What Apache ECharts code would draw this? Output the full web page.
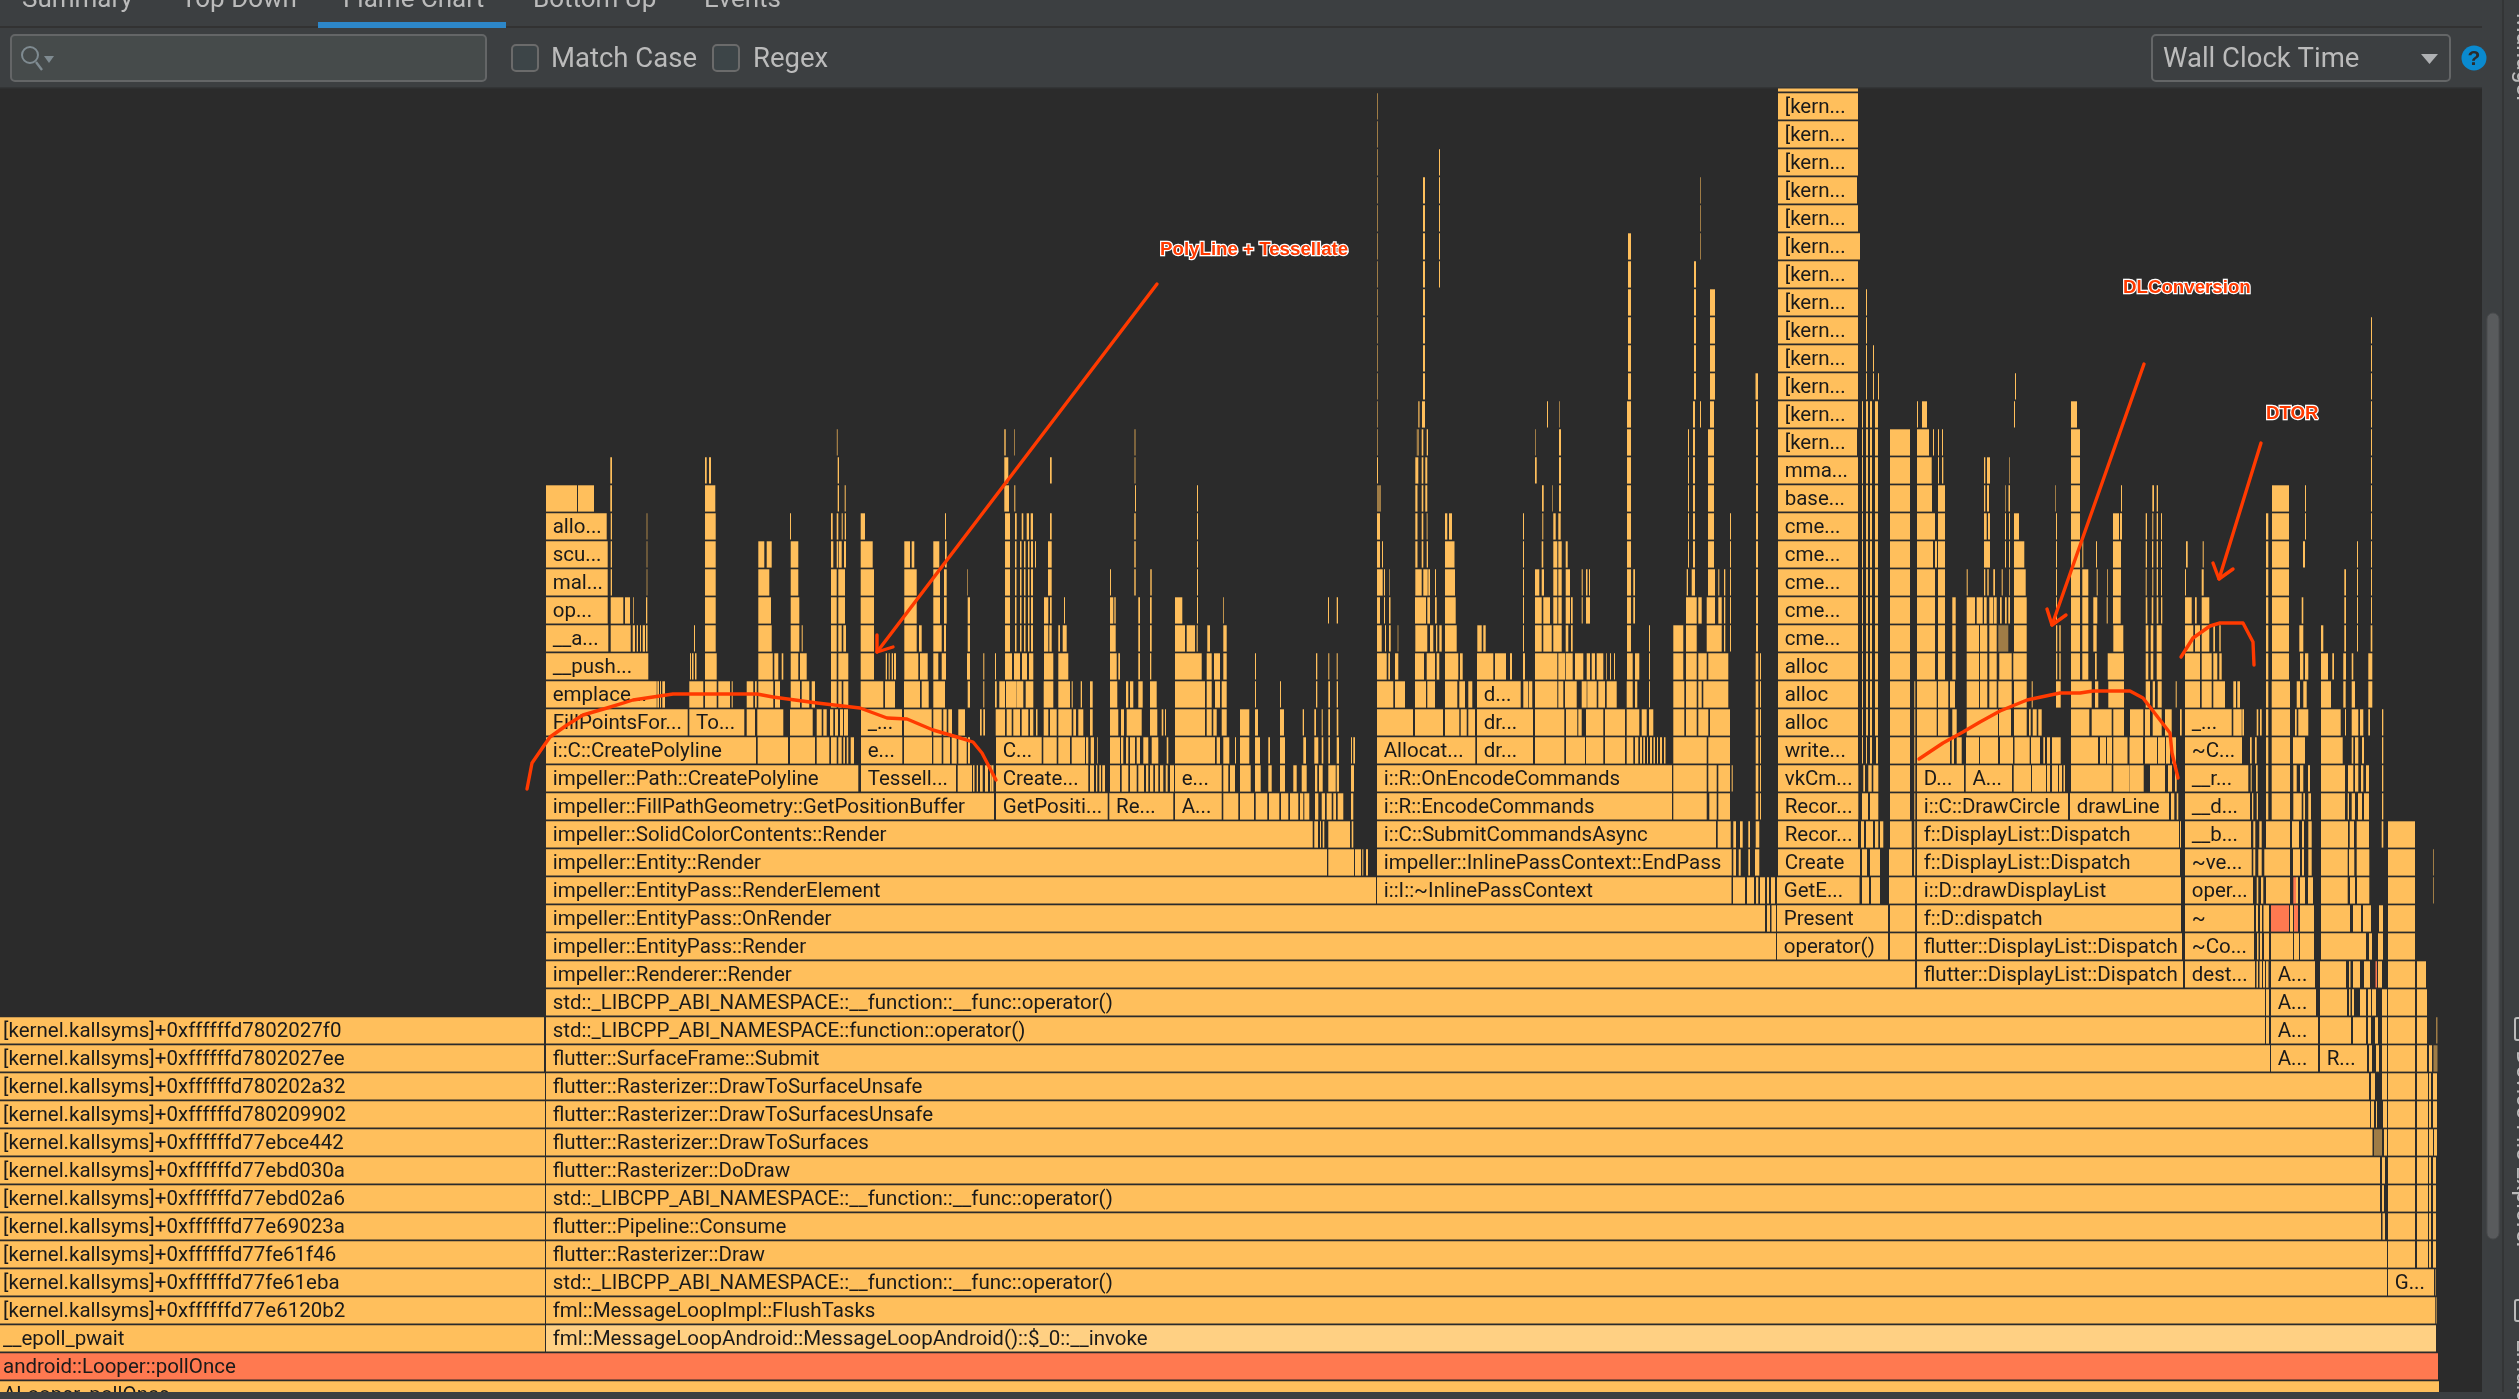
<![CDATA[<!DOCTYPE html>
<html><head><meta charset="utf-8">
<script src="https://cdn.jsdelivr.net/npm/echarts@6/dist/echarts.min.js"></script>
<style>html,body{margin:0;padding:0;background:#2b2b2b;overflow:hidden}#c{width:2519px;height:1399px}</style>
</head><body><div id="c"></div>
<script>
// Frames per stack level: [start, end, label, kind]  kind: r=hot, l=light, f=faint
const K='[kern...';
const FN='std::_LIBCPP_ABI_NAMESPACE::__function::__func::operator()';
const cl=[[1862,1863],[1866,1868],[1870,1872],[1875,1878]];
const thin1015=[[1015,1016.5],[1020,1021.5],[1024,1025.5],[1028,1029.5],[1031,1033]];
const tail=[[2388,2415],[2417,2428],[2429,2431],[2433,2436]];
const L0=[[0,2439,'ALooper_pollOnce']];
const L1=[[0,2438,'android::Looper::pollOnce','r']];
const L2=[[0,545,'__epoll_pwait'],[546,2436,'fml::MessageLoopAndroid::MessageLoopAndroid()::$_0::__invoke','l']];
const L3=[[0,545,'[kernel.kallsyms]+0xffffffd77e6120b2'],[546,2435,'fml::MessageLoopImpl::FlushTasks'],[2435.5,2437,'','f']];
const L4=[[0,545,'[kernel.kallsyms]+0xffffffd77fe61eba'],[546,2387,FN],[2388,2434,'G...'],[2435,2436,'','f']];
const L5=[[0,545,'[kernel.kallsyms]+0xffffffd77fe61f46'],[546,2387,'flutter::Rasterizer::Draw'],...tail];
const L6=[[0,545,'[kernel.kallsyms]+0xffffffd77e69023a'],[546,2381,'flutter::Pipeline::Consume'],[2382.5,2385],...tail];
const L7=[[0,545,'[kernel.kallsyms]+0xffffffd77ebd02a6'],[546,2380,FN],[2382,2384],...tail];
const L8=[[0,545,'[kernel.kallsyms]+0xffffffd77ebd030a'],[546,2380,'flutter::Rasterizer::DoDraw'],[2382,2385],...tail];
const L9=[[0,545,'[kernel.kallsyms]+0xffffffd77ebce442'],[546,2372.5,'flutter::Rasterizer::DrawToSurfaces'],[2374,2382,'','f'],[2384,2387],[2388,2415],[2417,2428],[2429,2433],[2434,2437]];
const L10=[[0,545,'[kernel.kallsyms]+0xffffffd780209902'],[546,2370,'flutter::Rasterizer::DrawToSurfacesUnsafe'],[2371,2374],[2376,2377],[2383,2387],[2388,2415],[2417,2428],[2429,2431],[2433,2437]];
const L11=[[0,545,'[kernel.kallsyms]+0xffffffd780202a32'],[546,2369,'flutter::Rasterizer::DrawToSurfaceUnsafe'],[2371,2375],[2382,2387],[2388,2415],[2417,2428],[2429,2431],[2433,2437]];
const L12=[[0,544,'[kernel.kallsyms]+0xffffffd7802027ee'],[546,2270,'flutter::SurfaceFrame::Submit'],[2271,2318,'A...'],[2320,2367,'R...'],[2369,2372],[2376,2379],[2382,2387],[2388,2415],[2417,2427],[2429,2432],[2433.5,2437.5,'','f']];
const L13=[[0,544,'[kernel.kallsyms]+0xffffffd7802027f0'],[546,2265,'std::_LIBCPP_ABI_NAMESPACE::function::operator()'],[2266,2269],[2271,2318,'A...'],[2320,2351],[2353,2366],[2368,2371],[2375,2378],[2382,2387],[2388,2415],[2417,2427],[2436,2437.5,'','f']];
const L14=[[546,2265,FN],[2266,2269],[2271,2316,'A...'],[2320,2347],[2349,2350.5],[2352,2354],[2360,2366],[2368,2371],[2372,2376],[2382,2387],[2388,2415],[2417,2427]];
const L15=[[546,1915,'impeller::Renderer::Render'],[1917,2183,'flutter::DisplayList::Dispatch'],[2185,2255,'dest...'],[2256.5,2258],[2259.5,2262],[2263,2265],[2266,2268.5],[2271,2315,'A...'],[2320,2346],[2349,2350.5],[2353,2360],[2364,2370],[2375.5,2377,'','r'],[2378,2382],[2388,2415],[2417,2426]];
const L16=[[546,1776,'impeller::EntityPass::Render'],[1777,1888,'operator()'],[1890,1915],[1917,2182,'flutter::DisplayList::Dispatch'],[2185,2254,'~Co...'],[2257,2258.5],[2260,2262],[2264,2269],[2271,2293],[2294,2299],[2300,2314],[2321,2366],[2369,2372],[2378,2383],[2388,2415]];
const L17=[[546,1765,'impeller::EntityPass::OnRender'],[1767,1770],[1771.5,1776],[1777,1888,'Present'],[1890,1915],[1917,2181,'f::D::dispatch'],[2185,2254,'~'],[2256,2258],[2260,2262],[2263.5,2269],[2271,2289,'','r'],[2290,2293],[2294,2298,'','r'],[2300,2314],[2321,2350],[2353,2361],[2363,2371],[2379,2383],[2388,2415]];
const L18=[[546,1376,'impeller::EntityPass::RenderElement'],[1377,1731.5,'i::I::~InlinePassContext'],[1733,1745],[1747,1754],[1756,1758.3],[1760,1765],[1767,1769],[1771,1775],[1777,1859.5,'GetE...'],[1862,1869],[1871,1880],[1889,1915],[1917,2181,'i::D::drawDisplayList'],[2185,2253,'oper...'],[2256.7,2258.3],[2261,2263.3],[2266,2290],[2293.3,2296,'','r'],[2296,2298],[2300,2305],[2308,2313],[2321,2347.7],[2350,2355],[2357,2369.3],[2388,2415],[2433,2434,'','f']];
const L19=[[546,1327,'impeller::Entity::Render'],[1328.3,1354],[1355,1361],[1362.3,1363.3],[1366,1368],[1377,1731.7,'impeller::InlinePassContext::EndPass'],[1733.3,1736],[1738.7,1740.7],[1748.3,1750],[1755,1759.3],[1778,1860,'Create'],[1862,1867],[1870,1880],[1889,1912],[1914,1915.3],[1917,2180,'f::DisplayList::Dispatch'],[2185,2251.7,'~ve...'],[2253.3,2255.3],[2258.3,2261.7],[2264.3,2290],[2293,2300],[2302,2304],[2308.3,2311.7],[2321,2347.7],[2349,2354.3],[2356.7,2369.3],[2388,2415],[2433,2434,'','f']];
const L20=[[546,1312.7,'impeller::SolidColorContents::Render'],[1314.3,1318],[1320,1321],[1322.7,1324.3],[1328.3,1350],[1351.7,1353.3],[1377,1716,'i::C::SubmitCommandsAsync'],[1717.7,1730.7],[1733.3,1736],[1740,1742.7],[1748.3,1750],[1755.7,1759.3],[1778,1858,'Recor...'],[1861,1864],[1866,1873],[1875,1878.3],[1880,1883.3],[1890,1911.7],[1914.3,1915.3],[1917,2179,'f::DisplayList::Dispatch'],[2180,2181],[2185,2251,'__b...'],[2253.3,2255.3],[2259.3,2261.7],[2266,2290],[2292,2299],[2302,2304],[2308.3,2311.7],[2321,2348],[2349.7,2354],[2356.7,2369],[2381.7,2383.3],[2388,2415]];
const L21=[[546,994,'impeller::FillPathGeometry::GetPositionBuffer'],[996,1107.7,'GetPositi...'],[1109.3,1173.3,'Re...'],[1175,1221.7,'A...'],[1223.3,1238.3],[1240,1254],[1255.7,1267.3],[1269,1279.3],[1281,1288.3],[1290,1298.3],[1300,1303.3],[1304.3,1309.3],[1315,1318.3],[1321.7,1325],[1326.7,1331.7],[1333.3,1336],[1337.7,1343.3],[1351,1353.3],[1377,1672,'i::R::EncodeCommands'],[1673.3,1706.7],[1709.3,1716.7],[1718.3,1730],[1755.7,1758.3],[1760,1761],[1778,1858.3,'Recor...'],[1862,1868],[1870,1878.3],[1890,1910],[1914.3,1915.3],[1917,2068,'i::C::DrawCircle'],[2070,2169,'drawLine'],[2171,2174.3],[2176.7,2178.3],[2185,2250,'__d...'],[2252,2253.3],[2256.7,2258],[2266,2268.3],[2271.7,2290],[2293.3,2301.7],[2303.3,2305],[2308.3,2311],[2321,2345],[2347.7,2349],[2351.7,2355],[2358,2362],[2364,2369],[2382,2383.3]];
const L22=[[546,858.3,'impeller::Path::CreatePolyline'],[861,956,'Tessell...'],[957.7,972],[973,974.5],[976.7,978],[980,982.7],[985,988],[990,991.7],[992,993.5],[996,1088.3,'Create...'],[1090,1094],[1096,1097.3],[1099.3,1101],[1102.3,1105],[1110,1120],[1121.7,1128.3],[1130,1136.7],[1138.3,1144],[1146,1148.3],[1150,1153.3],[1155,1158.3],[1160,1163.3],[1165.7,1167.7],[1170,1174],[1175,1221.7,'e...'],[1223.3,1228.3],[1230,1235],[1240,1250.7],[1255,1260.7],[1268.3,1271.7],[1280,1285],[1293.3,1296.7],[1301.7,1306.7],[1315,1317.3],[1319,1322.7],[1328.3,1335.7],[1336.7,1339],[1351,1354],[1377,1672,'i::R::OnEncodeCommands'],[1673.3,1706.7],[1708.3,1716.7],[1718.3,1730],[1731.7,1732.7],[1755.7,1758.3],[1760,1761],[1778,1858.3,'vkCm...'],[1863.3,1865],[1868.3,1871.7],[1873.3,1878.3],[1890,1910],[1914.3,1915.3],[1917,1964,'D...'],[1965.7,2012,'A...'],[2013.7,2031],[2032,2046],[2047,2050],[2052,2058],[2059,2062],[2063.5,2065],[2071,2111.7],[2113.3,2129.7],[2130,2143.7],[2150,2165],[2168,2172],[2175,2176.7],[2185,2248.3,'__r...'],[2250.7,2251.7],[2256,2257.7],[2266,2268.3],[2271.7,2290],[2293.3,2296.7],[2300,2303.3],[2308,2310],[2321,2345],[2348,2353.3],[2355,2358.3],[2361,2363.3],[2366,2369],[2382,2383.3]];
const L23=[[546,756,'i::C::CreatePolyline'],[757.7,788],[790,815],[816.7,829.3],[831,836.7],[838.3,841.7],[843.3,845],[846.7,848.3],[850.7,854],[861,902.3,'e...'],[904,932],[933.3,941.7],[943.3,950],[951.7,956.7],[958.3,966.7],[968,970],[996,1041.7,'C...'],[1043.3,1056.7],[1058.3,1070],[1071.7,1085],[1086,1088.3],[1090.7,1094],[1097.3,1098],[1110,1120],[1121,1123.3],[1126,1128.3],[1130,1135],[1136.7,1140],[1143.3,1148.3],[1151.7,1158.3],[1166.7,1168.3],[1175,1215],[1216.7,1220],[1223.3,1229.3],[1235,1236],[1240,1249.3],[1255,1260],[1268.3,1270],[1280,1285],[1303.3,1306],[1314.3,1318.3],[1321.7,1323.3],[1328.3,1330],[1336.7,1339],[1351,1352],[1353.3,1355],[1377,1475.3,'Allocat...'],[1477,1533,'dr...'],[1535,1564.3],[1566,1585],[1586,1603.3],[1605,1625],[1626.7,1633.3],[1635,1638.3],[1640,1642],[1643.3,1645],[1647,1648],[1650,1652],[1653.5,1655],[1657,1658],[1660,1662],[1664,1665.5],[1673.3,1706.7],[1708.3,1730],[1755.7,1758.3],[1760,1761],[1778,1858,'write...'],[1862,1863],[1866,1867],[1870,1872],[1876,1878],[1890,1910],[1914.3,1915.3],[1917,1950],[1951.7,1954],[1956.7,1961.7],[1966,1979],[1980,1998],[2000,2013],[2014.5,2029.7],[2031,2040],[2043.3,2045],[2047,2050],[2052,2060.7],[2071,2098],[2100,2106],[2107,2112],[2113.3,2127.5],[2129.5,2143],[2145,2157],[2158,2165],[2166,2170],[2172,2176],[2185,2242,'~C...'],[2250,2251.7],[2255,2256.7],[2266,2268.3],[2271.7,2290],[2293,2305],[2321,2342.7],[2351.7,2353.3],[2355,2358.3],[2362,2364],[2382,2383.3]];
const L24=[[546,687.7,'FillPointsFor...'],[689.3,744.3,'To...'],[746.7,755],[757.3,783.3],[790,812.7],[816.7,821.7],[823.3,826.7],[830,833.3],[835,838],[840,843],[844,848],[861,902,'_...'],[904,931.7],[933.3,941.7],[943.3,946.7],[948.3,952],[958.3,965],[980,981.7],[983.3,985],[995.7,1005],[1006.7,1011.7],[1013.3,1020],[1021.7,1028.3],[1030,1033.3],[1036,1037.5],[1043.7,1048.3],[1050,1056.7],[1058.3,1071.7],[1073.3,1076],[1078.3,1083.3],[1090,1092.7],[1110,1118.3],[1121,1124],[1126.7,1141.7],[1150,1157.3],[1161.7,1163.3],[1165,1166],[1175,1205],[1206.7,1211.7],[1213.3,1216.7],[1221.7,1226.7],[1240,1249.3],[1255,1258],[1280,1284],[1302.7,1304],[1314.3,1316],[1321.7,1322.7],[1328.3,1330],[1336.7,1338.3],[1377,1413],[1415,1443],[1445,1459.3],[1460.7,1466.7],[1468.3,1475],[1477,1533,'dr...'],[1535,1564.3],[1566,1577.3],[1578.3,1581.7],[1586,1603.3],[1605,1625],[1626.7,1639.3],[1641.7,1646.7],[1649,1653.3],[1673.3,1684.3],[1686,1696.7],[1698.3,1708.3],[1710,1730],[1755.7,1758.3],[1760,1761],[1778,1858,'alloc'],...cl,[1890,1910],[1914.3,1915.3],[1917,1936.7],[1938,1948.3],[1952.3,1956.7],[1966.7,1998],[1999,2011],[2014,2026.7],[2029,2030.7],[2032.7,2036.7],[2038.3,2041.7],[2071,2089.3],[2091.7,2111.7],[2113.3,2124],[2130,2143.3],[2145,2150],[2152.7,2161.7],[2165,2171.7],[2180,2181.7],[2185,2231.7,'_...'],[2233.3,2241.7],[2242.3,2244],[2256.7,2258.3],[2260,2261.7],[2266,2268.3],[2271.7,2290],[2295,2296.7],[2298.3,2308.3],[2321,2340.7],[2345,2346],[2351.7,2358.3],[2360,2363.3],[2368.3,2370],[2382,2383.3]];
const L25=[[546,656.7,'emplace...'],[657.3,659],[660,661],[662.3,665],[689.3,703.3],[705,716.7],[718.3,730],[731.7,732.7],[746.7,753.3],[755,756.7],[758.3,773.3],[775,780],[790.7,800],[801.7,809.3],[811.7,815],[831,836.7],[838.3,841.7],[843.3,848.3],[860.7,883.3],[885,895],[904,920],[921.7,928.7],[933.3,945],[967.7,970],[983.3,984.3],[995,996.7],[999.3,1005],[1006,1016.7],[1017,1023.3],[1025.7,1033.3],[1043.7,1053.3],[1058.3,1070],[1071.7,1072.7],[1080.7,1082],[1090,1092.7],[1110,1117.3],[1126,1128.3],[1130,1133.3],[1138.3,1142.7],[1150,1156.7],[1175,1205],[1206.7,1211.7],[1215,1220],[1221.7,1226.7],[1255,1256],[1280,1281],[1316,1317.3],[1328.3,1330],[1336.7,1338],[1377,1393.3],[1395,1405],[1415,1426],[1427.3,1435],[1445,1457.3],[1459.3,1465],[1468.3,1472.3],[1477,1520.7,'d...'],[1523.3,1528.3],[1529,1532.3],[1535,1557.3],[1558.3,1563.3],[1565,1576.7],[1581.7,1586.7],[1587.3,1596.7],[1598.3,1605],[1606.7,1616.7],[1626.7,1632.7],[1635,1637.3],[1649,1650],[1673.3,1684.3],[1686,1696.7],[1698.3,1701.7],[1703.3,1728.3],[1755.7,1758.3],[1760,1761],[1778,1858,'alloc'],...cl,[1890,1910],[1914.3,1915.3],[1917,1936.7],[1938,1948.3],[1950,1955],[1966.7,1979],[1980,1987.3],[1989.3,1996.7],[1998.3,2011.7],[2014,2026.7],[2031.7,2032.7],[2056,2060.7],[2071,2091.7],[2095,2098.3],[2108.3,2124],[2145.7,2150],[2152.7,2155],[2157.7,2161.7],[2175.7,2176.7],[2185,2200],[2201.7,2211.7],[2213.3,2225],[2233.3,2236],[2237.3,2240],[2266,2268.3],[2271.7,2290],[2296.7,2300],[2303.3,2306.7],[2321,2331],[2343.3,2345.7],[2351.7,2355],[2368.3,2372.3]];
const L26=[[546,648.3,'__push...'],[690,691],[692,693.5],[695,696.5],[705,716.7],[758.3,772.7],[774.3,778.3],[781.7,783.3],[790.7,798.3],[800,806.7],[831,836.7],[838.3,848.3],[860.7,874],[885.7,887],[888.7,889.7],[891.7,893],[894,896],[904.3,918.3],[920,927.7],[933.3,938.3],[941.7,946],[967,970],[983.3,984.3],[995,996],[1005,1012],[1014,1020],[1022,1027],[1029,1033.3],[1044,1053.3],[1058.3,1068.3],[1110,1116.7],[1118.3,1120],[1138.3,1140],[1150,1151.3],[1175,1201.7],[1206.7,1211.7],[1214,1220],[1223.3,1226.7],[1255,1256],[1316,1317.3],[1328.3,1329.3],[1336.7,1337.7],[1377,1386.7],[1388.3,1390],[1395,1398.3],[1415,1424],[1426.7,1435],[1436.7,1439.3],[1445,1458.3],[1460,1462.7],[1477,1493.3],[1495,1506],[1510,1512],[1523,1525],[1535,1557.3],[1558.3,1565],[1565.7,1572.7],[1575,1583.3],[1586.7,1590],[1591.7,1595],[1596.7,1603.3],[1606,1606.7],[1610,1611],[1614,1615],[1627,1632.7],[1635,1639.3],[1649,1650],[1673.3,1683.3],[1686,1696.7],[1698.3,1706.7],[1708.3,1728.3],[1755.7,1758.3],[1760,1761],[1778,1858,'alloc'],...cl,[1890,1910],[1917,1935],[1938,1945],[1952.3,1955.7],[1966.7,1979],[1980,1987.3],[1989.3,1996.7],[1999.3,2011.7],[2013.3,2026.7],[2056,2057.3],[2059.3,2060.7],[2071,2080],[2082.3,2088.3],[2095,2096.7],[2107.7,2124],[2145.7,2148.3],[2150.7,2153.3],[2156.7,2161.7],[2185,2200],[2201.7,2211.7],[2213.3,2217.3],[2219.3,2221.7],[2266,2268.3],[2272,2289],[2300,2303.3],[2305,2308.3],[2321,2328],[2332.3,2334],[2343.3,2346],[2351.7,2353.3],[2368.3,2372.3]];
const L27=[[546,608.3,'__a...'],[610.7,630.7],[632.7,635],[636.7,638],[640,641],[642.7,645],[646,647.5],[694,695],[705,715.7],[758.3,771.7],[790.7,799.3],[801.7,802.7],[831,836.7],[838.3,841.7],[843.3,846],[860.7,874],[904.3,916.7],[919,921.7],[933.3,941.7],[944,946],[967.7,970],[1005,1010],...thin1015,[1044,1048.3],[1049.3,1051.7],[1058.3,1060],[1062.7,1066.7],[1110,1115.7],[1138.3,1140],[1150,1151.7],[1175,1185],[1186.7,1195],[1196.7,1197.7],[1207.3,1210],[1223.3,1226.7],[1377,1381.7],[1385,1386],[1389,1390.7],[1397.7,1398.3],[1415.3,1427.3],[1430,1433.3],[1436,1437.3],[1439.3,1441.7],[1445,1456.7],[1477.3,1481.7],[1483.3,1485.7],[1523,1524],[1535,1541.7],[1543.3,1551.7],[1553.3,1561.7],[1565.7,1568.3],[1571,1572.7],[1627,1631],[1649,1650],[1673.3,1683.3],[1686,1696.7],[1706.7,1721.7],[1724,1725.3],[1730,1731],[1756,1758],[1778,1858,'cme...'],...cl,[1890,1910],[1917,1935],[1938,1945],[1952.3,1955.7],[1966.7,1979],[1980,1987.3],[1989.3,1996.7],[1998.3,2008.3,'','f'],[2014,2026.7],[2056,2057.3],[2059.3,2060.7],[2071,2080],[2082.3,2088.3],[2093.3,2096.7],[2113.3,2123.3],[2145.7,2148.3],[2150.7,2153.3],[2156.7,2161.7],[2185,2193.3],[2195,2200],[2201.7,2209.3],[2213.3,2215],[2219.3,2220.7],[2266,2268.3],[2272,2289],[2299.3,2303.3],[2321,2323.3],[2344.3,2346],[2357,2358],[2370.7,2372.3]];
const L28=[[546,607.7,'op...'],[610.7,623.3],[625,630],[633.3,634],[646,647.3],[705,715.7],[758.3,771],[790.7,799.3],[831,836.7],[838.3,845],[860.7,874],[904.3,916.7],[933.3,940],[944,946.7],[967.7,970],[1005,1010],...thin1015,[1044,1048.3],[1050,1051.7],[1064,1065],[1110,1113.3],[1114.3,1115.7],[1138.3,1140],[1150,1151.7],[1175,1182.3],[1197,1198],[1223.3,1224],[1328,1329],[1336.7,1338],[1377,1380],[1384,1385],[1389,1390.5],[1415,1426],[1427.3,1430],[1435,1436.7],[1445,1455.7],[1523,1524],[1535,1541.7],[1543.3,1550],[1553.3,1557.3],[1558.3,1561.7],[1565.7,1570],[1571,1572.7],[1581.7,1582.7],[1586,1590],[1627,1631],[1633.3,1635],[1686,1696.7],[1698.3,1701.7],[1706.7,1715],[1718.3,1721.7],[1724,1725.3],[1730,1731],[1756,1758],[1778,1858,'cme...'],...cl,[1890,1910],[1917,1935],[1938,1945],[1952.3,1955.7],[1966.7,1975],[1976.7,1982.7],[1984,1986.7],[1989.3,1993.3],[1994,1996.7],[2000,2001.7],[2005,2006.7],[2008.3,2010],[2014,2026.7],[2056,2057],[2071,2080],[2082.3,2088.3],[2093.3,2097.3],[2106.7,2107.7],[2113,2120.7],[2145.7,2147.3],[2151.7,2153.3],[2156.7,2158.3],[2161,2162.3],[2185,2191.7],[2195,2196.7],[2201.7,2209.3],[2266,2268.3],[2272,2289],[2301.7,2303.3],[2344.3,2346],[2357,2358],[2371,2372]];
const L29=[[546,607.7,'mal...'],[610.7,612],[646.7,647.3],[705,715.7],[758.3,769.3],[790.7,798.3],[831,836.7],[838.3,845],[860.7,874],[904.3,916.7],[933.3,940],[944,946.7],[967,968,'','f'],[1005,1010],...thin1015,[1048,1051.7],[1110,1111],[1134.3,1135.7],[1150.3,1151.7],[1197,1198],[1377,1382.7],[1384,1385],[1389,1390,'','f'],[1415.3,1421.7],[1423.3,1427.7],[1428.3,1430],[1435,1436],[1445,1455],[1523,1524],[1535,1539.3],[1541.7,1544],[1553.3,1557.3],[1558.3,1561.7],[1565.7,1570],[1581.7,1582.7],[1586,1587.5],[1589,1590],[1627,1631],[1633.3,1635],[1686.7,1688],[1691.7,1695],[1708,1715],[1718.3,1719.3],[1724,1725.3],[1730,1731],[1756,1758],[1778,1858,'cme...'],...cl,[1890,1910],[1917,1935],[1938,1945],[1966.7,1967.7],[1984,1985.3],[1987.3,1988.7],[1993.3,1995],[2001.7,2002.7],[2009.3,2010],[2014,2025.7],[2056,2057],[2071,2080],[2082.3,2088.3],[2096.7,2097.7],[2107.3,2108],[2113,2121],[2145.7,2146.7],[2152.3,2153.3],[2156.7,2158],[2161,2162],[2185,2186],[2201.7,2203.7],[2266,2268.3],[2272,2289],[2344.3,2346],[2357,2358],[2371,2372]];
const L30=[[546,607.7,'scu...'],[610.7,612],[646.7,647.3],[705,715.7],[758.3,764.3],[766.7,771.7],[790.7,798.3],[831,833.3],[836.7,838.3],[839,841.7],[844,846],[860.7,872.7],[904.3,910],[911.7,914.3],[933.3,939.3],[945,946.7],[1005,1010],...thin1015,[1035,1036],[1048,1051.7],[1134.3,1135.7],[1197,1198],[1377,1380],[1382,1383],[1415.3,1417.5],[1421.7,1423.3],[1426.7,1428],[1445,1454.5],[1523,1524],[1541.7,1543.3],[1553.3,1557.3],[1558.3,1561.7],[1565.7,1567.7],[1627,1631],[1688,1689],[1693,1695],[1708,1714],[1730,1731],[1756,1758],[1778,1858,'cme...'],...cl,[1890,1910],[1917,1933],[1935,1937],[1938,1945],[1984,1990],[2005,2006],[2009,2010],[2014,2024.3],[2056,2057],[2071,2080],[2082.3,2083.3],[2096,2097],[2113,2121],[2145.7,2147],[2152,2153.3],[2156.7,2158],[2161,2162],[2186,2187.7],[2202.7,2203.7],[2266,2268.3],[2272,2289],[2303,2305],[2357,2358],[2371,2372]];
const L31=[[546,606.7,'allo...'],[610.7,612],[646.7,647.3],[705,715.7],[790,791],[831,832.7],[836.7,838.3],[841.7,842.7],[844.7,846],[860.7,865],[945,946],[1005,1010],[1015,1016.7],[1021.7,1023.3],[1026.7,1029],[1030.7,1033],[1050,1051.7],[1134.3,1135.7],[1197,1198],[1377,1380],[1415.3,1417.5],[1421.7,1423.3],[1426.7,1427.5],[1445,1447.3],[1449,1452],[1523,1524],[1542.3,1543.3],[1553.3,1555.7],[1558.3,1560.7],[1627,1631],[1688,1689],[1693,1695],[1708,1714],[1730,1731],[1756,1758],[1778,1858,'cme...'],...cl,[1890,1910],[1917,1935],[1938,1945],[1984,1986.7],[1988,1990],[2005,2006],[2009,2010],[2014,2019],[2056,2057],[2071,2080],[2113,2119],[2120,2122],[2145.7,2147],[2152.3,2153.3],[2156.7,2158],[2161,2162],[2266,2268.3],[2272,2289],[2305,2306],[2371,2372]];
const L32=[[546,577],[578,594],[610.3,612],[705,715.3],[837.7,839],[844.7,845.7],[1004.3,1009],[1014.3,1015.3],[1135,1136],[1197,1198],[1377,1381,'','f'],[1415.3,1417.5],[1421.7,1423.3],[1425.3,1427.3],[1542,1543.7],[1552,1553,'','f'],[1559,1561],[1627,1631],[1688,1689],[1693,1695],[1708,1714],[1756,1758],[1778,1858,'base...'],...cl,[1890,1910],[1917,1932],[1938,1945],[1984,1985.3],[1987,1989],[2005,2006,'','f'],[2008.5,2010],[2055,2056,'','f'],[2071,2080],[2121,2122],[2152.3,2154],[2156.7,2158],[2272,2289],[2305,2306],[2371,2372]];
const L33=[[610.3,612],[705,706.7],[709,711],[837.7,839],[1004.3,1008.3],[1050,1051.7],[1134.3,1135.7,'','f'],[1377,1378],[1415.3,1418.3],[1421.7,1423.3],[1425.3,1427.3],[1535,1536.7],[1559,1561],[1627,1631],[1688,1689],[1693,1695],[1708,1714],[1756,1758],[1778,1858,'mma...'],...cl,[1890,1910],[1917,1931.7],[1938,1939],[1942,1943.3],[1984,1985.3],[1987,1990],[2009,2010,'','f'],[2071,2080],[2371,2372]];
const L34=[[836.7,838,'','f'],[1004.3,1005.7],[1014,1015,'','f'],[1134.3,1135.7,'','f'],[1377,1378,'','f'],[1416.7,1419,'','f'],[1421.7,1423.3],[1426.7,1428],[1535,1536,'','f'],[1559,1561],[1627,1631],[1688,1689],[1693,1695],[1708,1714],[1756,1758],[1778,1857,K],...cl,[1890,1910],[1917,1929],[1933,1934],[1938,1939],[1942,1943],[2071,2080],[2371,2372]];
const L35=[[1377,1378,'','f'],[1418.3,1419.5],[1422,1425],[1547,1548],[1559,1560,'','f'],[1627,1631],[1693,1695],[1700,1701],[1710,1714],[1756,1758],[1778,1858,K],...cl,[1917,1918],[1922,1927],[2014,2015],[2071,2077],[2371,2372]];
const L36=[[1377,1378,'','f'],[1423,1425],[1628,1631],[1694,1696],[1710,1715],[1755.5,1758],[1778,1858,K],[1866,1867],[1873,1874],[1878,1879],[2015,2016],[2371,2372]];
const L37=[[1377,1378,'','f'],[1423,1425],[1628,1631],[1694,1696],[1710,1715],[1778,1858,K],[1866,1867],[1873,1874],[2371,2372]];
const L38=[[1377,1378,'','f'],[1423,1425],[1628,1631],[1694,1696],[1710,1715],[1778,1858,K],[1866,1867],[2371,2372]];
const L39=[[1377,1378,'','f'],[1423,1425],[1628,1631],[1694,1696],[1710,1715],[1778,1858,K],[1866,1867]];
const L40=[[1377,1378,'','f'],[1423,1425],[1439,1440],[1628,1631],[1694,1696],[1778,1858,K]];
const L41=[[1377,1378,'','f'],[1423,1425],[1439,1440],[1628,1631],[1700,1701,'','f'],[1778,1860,K]];
const L42=[[1377,1378,'','f'],[1423,1425],[1439,1440],[1700,1701,'','f'],[1778,1858,K]];
const L43=[[1377,1378,'','f'],[1423,1425],[1439,1440],[1700,1701,'','f'],[1778,1857,K]];
const L44=[[1377,1378,'','f'],[1439,1440],[1778,1858,K]];
const L45=[[1377,1378,'','f'],[1778,1858,K]];
const L46=[[1377,1378,'','f'],[1778,1858,K]];
const L47=[[1778,1858,K]];
const levels=[L0,L1,L2,L3,L4,L5,L6,L7,L8,L9,L10,L11,L12,L13,L14,L15,L16,L17,L18,L19,L20,L21,L22,L23,L24,L25,L26,L27,L28,L29,L30,L31,L32,L33,L34,L35,L36,L37,L38,L39,L40,L41,L42,L43,L44,L45,L46,L47];

// Hand-drawn annotation strokes (x, y in screen units)
const noteCurve1=[[527,789],[532,763],[543,747],[550,737],[567,725],[583,715],[607,708],[633,700],[673,694],[757,694],[773,697],[817,703],[860,708],[887,718],[907,719],[933,730],[957,737],[973,742],[982,753],[996,780]];
const noteCurve2=[[1919,759],[1943,743],[1963,732],[1980,722],[2000,711],[2027,700],[2060,693],[2080,693],[2093,691],[2130,691],[2143,698],[2160,720],[2170,733],[2172,753],[2178,778]];
const noteCurve3=[[2181,657],[2193,638],[2210,626],[2220,623],[2243,623],[2253,642],[2254,665]];
const noteArrow1=[[1157,284],[877,652]];
const noteHead1=[[877,635],[877,652],[893,647]];
const noteArrow2=[[2144,364],[2052,625]];
const noteHead2=[[2047,609],[2052,625],[2066,615]];
const noteArrow3=[[2261,443],[2219,579]];
const noteHead3=[[2213,563],[2219,579],[2233,569]];
const tabs=[['Summary',22],['Top Down',181],['Flame Chart',343],['Bottom Up',533],['Events',704]];

const ORANGE='#FFBF5C',LIGHT='#FFD083',HOT='#FF7950';
const FONT='"Roboto", "Liberation Sans", sans-serif';
const items=[];
levels.forEach((row,l)=>row.forEach(f=>items.push([l,f[0],f[1],f[2]||'',f[3]||''])));

function renderFrame(params,api){
  const l=api.value(0), a=api.coord([api.value(1),l+1]), b=api.coord([api.value(2),l]);
  const it=items[params.dataIndex];
  const kind=it[4], label=it[3];
  const fill=kind==='r'?HOT:kind==='l'?LIGHT:ORANGE;
  const kids=[{type:'rect',shape:{x:a[0],y:a[1],width:b[0]-a[0],height:26.3},
    style:{fill:fill,opacity:kind==='f'?0.55:1}}];
  if(label) kids.push({type:'text',style:{x:a[0]+(a[0]<10?3:6.7),y:a[1]+14.3,text:label,fill:'#1a1a1a',
    font:'20.5px '+FONT,textVerticalAlign:'middle',textAlign:'left'}});
  return {type:'group',children:kids};
}
function stroke(data){return {type:'line',xAxisIndex:0,yAxisIndex:1,data:data,symbol:'none',z:8,silent:true,animation:false,
  smooth:false,lineStyle:{color:'#FF3A00',width:3.4,join:'round',cap:'round'}};}

const CH='#3C3F41';
function rc(x,y,w,h,fill,extra){return {type:'rect',z:100,shape:{x:0,y:0,width:w,height:h,r:(extra&&extra.r)||0},x:x,y:y,
  style:{fill:fill,stroke:extra&&extra.stroke,lineWidth:extra&&extra.lw}};}
function tx(x,y,t,font,fill,extra){return {type:'text',z:101,x:x,y:y,
  style:Object.assign({text:t,font:font,fill:fill,textVerticalAlign:'middle'},extra||{})};}
const UI='27.5px "Roboto", sans-serif';
const TAB='26px "Roboto", sans-serif';
const SIDE='23px "Roboto", sans-serif';
const NOTE='bold 18.7px "Liberation Sans", sans-serif';
function side(y,t){return {type:'text',z:101,x:2523,y:y,rotation:-Math.PI/2,style:{text:t,font:SIDE,fill:'#BBBBBB',textAlign:'center',textVerticalAlign:'middle'}};}
function note(x,y,t){return {type:'text',z:102,x:x,y:y,style:{text:t,font:NOTE,fill:'#FF3A00',stroke:'#FFFFFF',lineWidth:2.4,textVerticalAlign:'middle'}};}
const chrome=[
  rc(0,0,2519,88,CH),
  rc(0,26,2519,2,'#323232'),
  rc(318,22,188,6,'#2D87C9'),
  rc(0,87,2482,1.5,'#333536'),
  ...tabs.map(t=>tx(t[1],0,t[0],TAB,'#BBBBBB')),
  rc(11,35,475,46,'#464B4B',{r:4,stroke:'#646667',lw:2}),
  {type:'circle',z:101,shape:{cx:30,cy:55,r:8},style:{fill:'none',stroke:'#7F8B91',lineWidth:2}},
  {type:'line',z:101,shape:{x1:36,y1:62,x2:42,y2:70},style:{stroke:'#7F8B91',lineWidth:2.4}},
  {type:'polygon',z:101,shape:{points:[[44,56],[54,56],[49,63]]},style:{fill:'#7F8B91'}},
  rc(512,45,26,26,'#3D4548',{r:4,stroke:'#6B6B6B',lw:2}),
  tx(551,60,'Match Case',UI,'#BBBBBB'),
  rc(713,45,26,26,'#3D4548',{r:4,stroke:'#6B6B6B',lw:2}),
  tx(753,60,'Regex',UI,'#BBBBBB'),
  rc(2152,35,298,46,'#3C3F41',{r:4,stroke:'#646667',lw:2}),
  tx(2163,60,'Wall Clock Time',UI,'#BBBBBB'),
  {type:'polygon',z:101,shape:{points:[[2421,54],[2438,54],[2429.5,64]]},style:{fill:'#AFB1B3'}},
  {type:'circle',z:101,shape:{cx:2474,cy:58,r:12.5},style:{fill:'#0A8ACF'}},
  tx(2474,59,'?','bold 21px "Liberation Sans", sans-serif','#2B2B2B',{textAlign:'center'}),
  rc(2482,0,37,1399,CH),
  rc(2487,313,12,926,'#595B5D',{r:6,stroke:'#4A4C4E',lw:1}),
  rc(2502,0,2,1399,'#333536'),
  side(58,'Manager'),side(1150,'Device File Explorer'),side(1385,'Emulator'),
  rc(2515,1018,14,22,'none',{r:2,stroke:'#BBBBBB',lw:2}),
  rc(2515,1300,14,21,'none',{r:2,stroke:'#BBBBBB',lw:2}),
  rc(0,1392,2519,7,CH),
  note(1160,249.5,'PolyLine + Tessellate'),note(2123,287.5,'DLConversion'),note(2266,413.5,'DTOR')
];

const chart=echarts.init(document.getElementById('c'),null,{renderer:'canvas',width:2519,height:1399});
chart.setOption({
  animation:false,backgroundColor:'#2B2B2B',
  grid:{left:0,right:0,top:0,bottom:0,containLabel:false},
  xAxis:{type:'value',min:0,max:2519,show:false},
  yAxis:[
    {type:'value',min:10.3/28,max:1409.3/28,show:false},
    {type:'value',min:0,max:1399,inverse:true,show:false}
  ],
  tooltip:{show:false},
  series:[
    {type:'custom',name:'frames',xAxisIndex:0,yAxisIndex:0,renderItem:renderFrame,data:items.map(d=>d.slice(0,3)),
      encode:{x:[1,2],y:0},clip:false,silent:true,z:2,progressive:0,animation:false},
    stroke(noteCurve1),stroke(noteCurve2),stroke(noteCurve3),
    stroke(noteArrow1),stroke(noteHead1),stroke(noteArrow2),stroke(noteHead2),stroke(noteArrow3),stroke(noteHead3)
  ],
  graphic:{elements:chrome}
});
</script></body></html>]]>
